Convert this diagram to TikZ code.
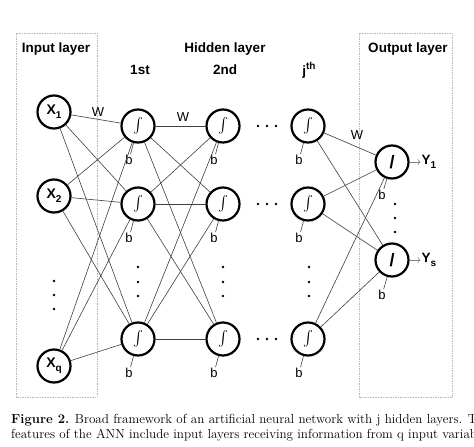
\documentclass[tikz,border=0pt]{standalone}
\usepackage{fontspec}
\setsansfont{Liberation Sans}
\usetikzlibrary{positioning}
\usetikzlibrary{arrows.meta}

\newcommand{\lsub}[1]{\raisebox{-0.5ex}{\fontsize{10}{10}\selectfont #1}}
\newcommand{\lsup}[1]{\raisebox{0.85ex}{\fontsize{10}{10}\selectfont #1}}

\tikzset{
  neuron/.style={circle,draw,line width=2.2pt,minimum size=33pt,inner sep=0pt,
    font=\sffamily\bfseries\fontsize{14}{14}\selectfont},
  wire/.style={black!75,line width=0.6pt},
  layerbox/.style={draw=gray!55,dash pattern=on 1.5pt off 1pt,line width=0.7pt},
  title/.style={font=\sffamily\bfseries\fontsize{13.5}{14}\selectfont},
  bias/.style={font=\sffamily\fontsize{13}{13}\selectfont,inner sep=1pt},
  caption/.style={anchor=base west,inner sep=0pt,font=\fontsize{13.1}{15}\selectfont}
}

\begin{document}
\begin{tikzpicture}[x=1pt,y=-1pt]
 \clip (0,0) rectangle (474,447);
 \fill[white] (0,0) rectangle (474,447);

 % layer boxes and titles
 \draw[layerbox] (16,33) rectangle (97,397);
 \draw[layerbox] (359,33) rectangle (452,397);
 \node[title] (tin) at (56,49) {Input layer};
 \node[title] (thid) at (225,49) {Hidden layer};
 \node[title] (tout) at (408,49) {Output layer};
 \node[title] (t1) at (140,70) {1st};
 \node[title] (t2) at (225,70) {2nd};
 \node[title] (tj) at (309,70) {j\lsup{th}};

 % input neurons
 \node[neuron] (x1) at (54,112) {X\lsub{1}};
 \node[neuron] (x2) at (54,196) {X\lsub{2}};
 \node[neuron] (xq) at (54,366) {X\lsub{q}};

 % hidden neurons with bias
 \foreach \c/\x in {1/138,2/223,j/308}
  \foreach \r/\y in {1/126,2/204,3/339} {
   \node[neuron] (h\c\r) at (\x,\y) {\scalebox{1.5}{$\int$}};
   \node[bias] (b\c\r) at (\x-9,\y+34) {b};
   \draw[wire] (h\c\r) -- (b\c\r);
  }

 % output neurons
 \node[neuron,font=\sffamily\bfseries\fontsize{18}{18}\selectfont] (y1) at (392,162) {/};
 \node[neuron,font=\sffamily\bfseries\fontsize{18}{18}\selectfont] (ys) at (392,260) {/};
 \node[bias] (by1) at (382,195) {b};
 \node[bias] (bys) at (382,295) {b};
 \draw[wire] (y1) -- (by1);
 \draw[wire] (ys) -- (bys);
 \node[title,inner sep=1pt] (y1l) at (429,162) {Y\lsub{1}};
 \node[title,inner sep=1pt] (ysl) at (429,260) {Y\lsub{s}};
 \draw[gray,line width=0.6pt,-{To[length=3pt]}] (y1) -- (y1l);
 \draw[gray,line width=0.6pt,-{To[length=3pt]}] (ys) -- (ysl);

 % connections
 \foreach \i in {x1,x2,xq}
  \foreach \h in {h11,h12,h13}
   \draw[wire] (\i) -- (\h);
 \foreach \a in {1,2,3}
  \foreach \b in {1,2,3}
   \draw[wire] (h1\a) -- (h2\b);
 \foreach \a in {1,2,3}
  \foreach \o in {y1,ys}
   \draw[wire] (hj\a) -- (\o);

 % weights
 \node[bias] (w1) at (98,112) {W};
 \node[bias] (w2) at (183,117) {W};
 \node[bias] (w3) at (357,135) {W};

 % dots
 \foreach \y in {281,295,309} \fill (54,\y) circle (1.3);
 \foreach \x in {138,223,309}
  \foreach \y in {267,282,296} \fill (\x,\y) circle (1.3);
 \foreach \y in {204,218,232} \fill (395,\y) circle (1.3);
 \foreach \y in {126,204,339}
  \foreach \x in {258,267,276} \fill (\x,\y) circle (1.3);

 % caption
 \node[caption] (cap1) at (11,423) {\textbf{Figure 2.} Broad framework of an artificial neural network with j hidden layers. The};
 \node[caption] (cap2) at (11,438) {features of the ANN include input layers receiving information from q input variables};
\end{tikzpicture}
\end{document}
